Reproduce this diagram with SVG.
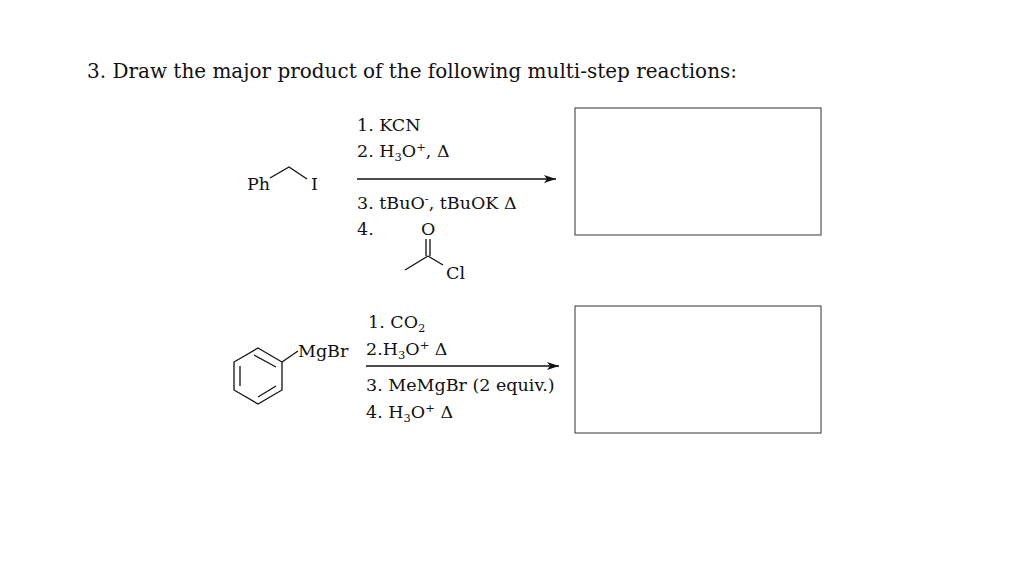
<svg xmlns="http://www.w3.org/2000/svg" width="1032" height="568" viewBox="0 0 1032 568">
<style>
text{font-family:"DejaVu Serif","Liberation Serif",serif;fill:#111}
.t{font-size:17.5px}
.s{font-size:11.5px}
.b{stroke:#111;stroke-width:1.3;fill:none}
.box{fill:#fff;stroke:#333;stroke-width:1}
</style>
<defs><marker id="ah" markerWidth="12" markerHeight="8" refX="12" refY="4" orient="auto" markerUnits="userSpaceOnUse"><path d="M0,0 L12,4 L0,8 L3,4 Z" fill="#111"/></marker></defs>
<rect width="1032" height="568" fill="#fff"/>
<text x="87" y="78" style="font-size:21px" textLength="650" lengthAdjust="spacingAndGlyphs">3.  Draw the major product of the following multi-step reactions:</text>
<g id="reactant1">
<text class="t" x="247" y="190">Ph</text>
<path class="b" d="M270,178 L289,167 L307,179"/>
<text class="t" x="311" y="190">I</text>
</g>
<g id="reagents1">
<text class="t" x="357" y="131">1. KCN</text>
<text class="t" x="357" y="157">2. H<tspan class="s" dy="4">3</tspan><tspan dy="-4">O</tspan><tspan class="s" dy="-6">+</tspan><tspan dy="6">, Δ</tspan></text>
<text class="t" x="357" y="209">3. tBuO<tspan class="s" dy="-6">-</tspan><tspan dy="6">, tBuOK Δ</tspan></text>
<text class="t" x="357" y="235">4.</text>
<text class="t" x="421" y="235">O</text>
<path class="b" d="M426,239 V256 M430,239 V256 M428,256 L405,270 M428,256 L443,265"/>
<text class="t" x="446" y="279">Cl</text>
</g>
<g id="product1"><rect class="box" x="575" y="108" width="246" height="127"/></g>
<g id="reactant2">
<path class="b" d="M258,348 L282,362 L282,390 L258,404 L234,390 L234,362 Z M254,355 L276,367 M276,386 L258,397 M240,366 L240,386"/>
<path class="b" d="M282,362 L298,351"/>
<text class="t" x="298" y="357">MgBr</text>
</g>
<g id="reagents2">
<text class="t" x="368" y="328">1. CO<tspan class="s" dy="4">2</tspan></text>
<text class="t" x="366" y="355">2.H<tspan class="s" dy="4">3</tspan><tspan dy="-4">O</tspan><tspan class="s" dy="-6">+</tspan><tspan dy="6"> Δ</tspan></text>
<text class="t" x="366" y="391">3. MeMgBr (2 equiv.)</text>
<text class="t" x="366" y="418">4. H<tspan class="s" dy="4">3</tspan><tspan dy="-4">O</tspan><tspan class="s" dy="-6">+</tspan><tspan dy="6"> Δ</tspan></text>
</g>
<g id="product2"><rect class="box" x="575" y="306" width="246" height="127"/></g>
<g id="connectors">
<line class="b" x1="357" y1="179" x2="556" y2="179" marker-end="url(#ah)"/>
<line class="b" x1="366" y1="366" x2="559" y2="366" marker-end="url(#ah)"/>
</g>
</svg>
